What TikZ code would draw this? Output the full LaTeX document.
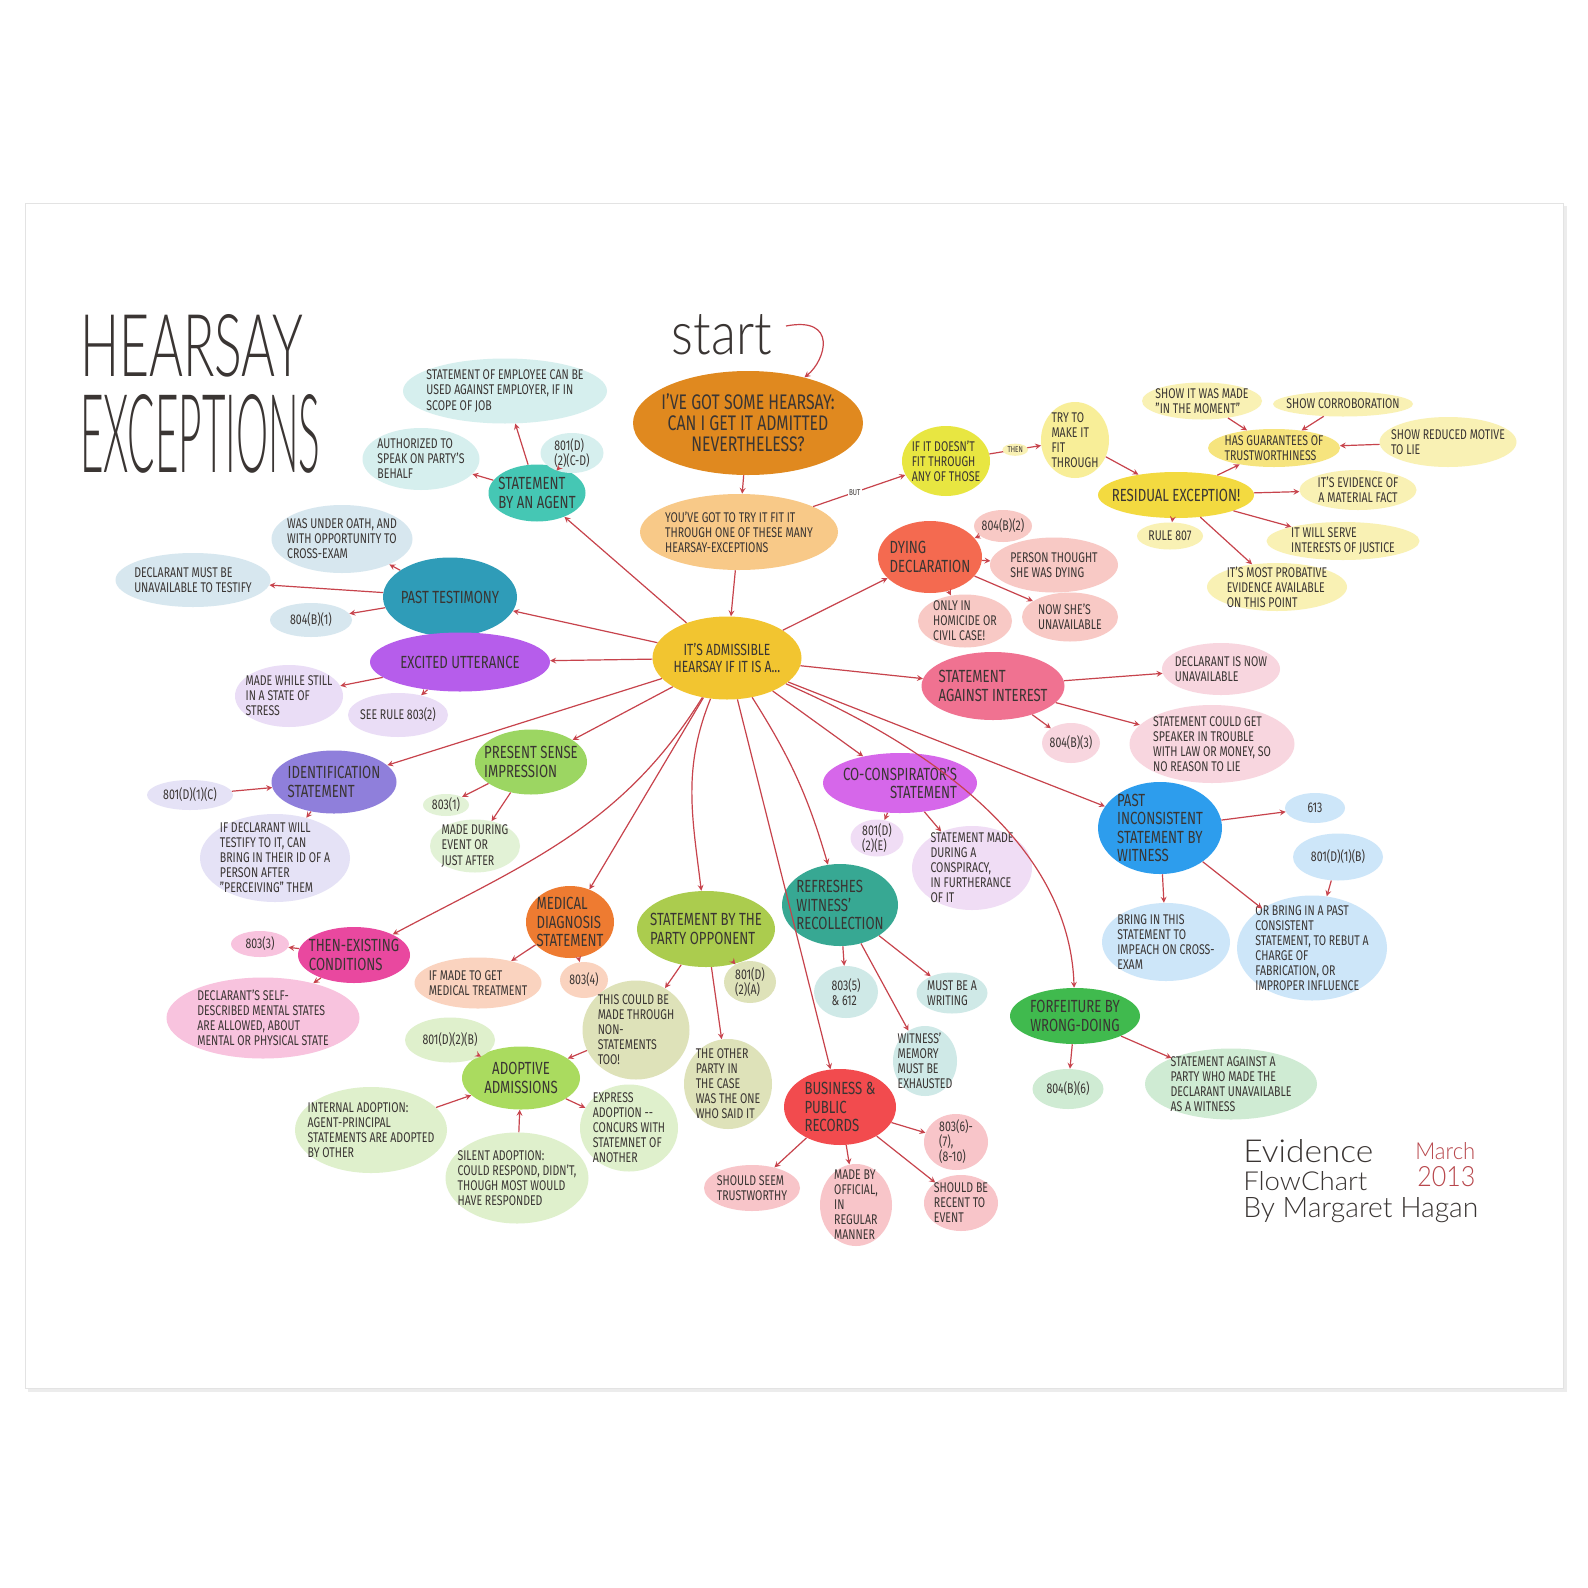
\documentclass[tikz,border=0pt]{standalone}
\usepackage{fontspec}
\usepackage{graphicx}
\setmainfont{Fira Sans}[FakeStretch=0.75]
\IfFontExistsTF{Lato Light}{\newfontfamily\thinhand{Lato Light}}{\newfontfamily\thinhand{Fira Sans}}
\usetikzlibrary{shapes.geometric}
\definecolor{startO}{HTML}{E0891F}\definecolor{tryO}{HTML}{F8C988}\definecolor{gold}{HTML}{F2C530}
\definecolor{lime}{HTML}{E8E641}\definecolor{paleY}{HTML}{F9F1B4}\definecolor{tryY}{HTML}{F8EE98}
\definecolor{residY}{HTML}{F3DA40}\definecolor{guarY}{HTML}{F6E47E}
\definecolor{agentT}{HTML}{45C7B4}\definecolor{agentL}{HTML}{D6EFEE}
\definecolor{pastB}{HTML}{2F9CB8}\definecolor{pastL}{HTML}{D7E7EF}
\definecolor{excP}{HTML}{B65DEB}\definecolor{excL}{HTML}{EADDF6}
\definecolor{idP}{HTML}{8F7FDB}\definecolor{idL}{HTML}{E5E2F6}
\definecolor{presG}{HTML}{9CD662}\definecolor{presL}{HTML}{E2F2D6}
\definecolor{dyingR}{HTML}{F46A50}\definecolor{dyingL}{HTML}{F8C9C5}
\definecolor{agaP}{HTML}{F07291}\definecolor{agaL}{HTML}{F8D6DF}
\definecolor{coconM}{HTML}{D667EA}\definecolor{coconL}{HTML}{F0DDF5}
\definecolor{refT}{HTML}{37A893}\definecolor{refL}{HTML}{CFE9E7}
\definecolor{pincB}{HTML}{2D9DED}\definecolor{pincL}{HTML}{CDE6F9}
\definecolor{forG}{HTML}{40BA4E}\definecolor{forL}{HTML}{CFEBD3}
\definecolor{busR}{HTML}{F24B4E}\definecolor{busL}{HTML}{F8C5C9}
\definecolor{medO}{HTML}{EE7B31}\definecolor{medL}{HTML}{FAD3BF}
\definecolor{thenM}{HTML}{E9489F}\definecolor{thenL}{HTML}{F8C3DE}
\definecolor{partyO}{HTML}{ABCC4E}\definecolor{partyL}{HTML}{DEE2B9}
\definecolor{adoG}{HTML}{AADB5F}\definecolor{adoL}{HTML}{DFF0CC}
\definecolor{arrowred}{HTML}{C7434C}\definecolor{ink}{HTML}{3A3533}\definecolor{signred}{HTML}{B8474C}
\begin{document}
\begin{tikzpicture}[x=0.25mm,y=-0.25mm,>=stealth,
bub/.style n args={3}{ellipse,fill=#1,minimum width=#2*0.25mm,minimum height=#3*0.25mm,inner sep=0pt},
sm/.style={font=\fontsize{10}{10.7}\selectfont,text=ink,align=left},
md/.style={font=\fontsize{12.5}{13}\selectfont,text=ink,align=left},
lg/.style={font=\fontsize{15}{15}\selectfont,text=ink,align=center},
tn/.style={font=\fontsize{6}{6}\selectfont,text=ink,inner sep=1pt},
sig/.style={font=\thinhand,text=ink,anchor=base west,inner sep=0pt},
link/.style={->,draw=arrowred,line width=0.3mm}]
\useasboundingbox (0,0) rectangle (1588,1588);
\fill[white] (0,0) rectangle (1588,1588);
% the card
\fill[gray!15] (28,206) rectangle (1567,1392);
\fill[white,draw=gray!22] (25,203) rectangle (1563,1388);
% title and signature
\node[font=\thinhand\fontsize{10}{10}\selectfont,text=ink,inner sep=0pt,align=left,anchor=north west] (title) at (80,314)
  {\resizebox{55.75mm}{15.5mm}{HEARSAY}\\[4mm]\resizebox{60mm}{19.5mm}{EXCEPTIONS}};
\node[font=\thinhand,text=ink] (startlbl) at (722,335) {\resizebox{25mm}{10mm}{start}};
\node[sig] (sigA) at (1243,1162) {\resizebox{32.5mm}{5.75mm}{Evidence}};
\node[sig] (sigB) at (1243,1190) {\resizebox{31mm}{4.75mm}{FlowChart}};
\node[sig] (sigC) at (1243,1217) {\resizebox{58.75mm}{5mm}{By Margaret Hagan}};
\node[sig,text=signred] (sigD) at (1415,1159) {\resizebox{15mm}{4.25mm}{March}};
\node[sig,text=signred] (sigE) at (1417,1186) {\resizebox{14.5mm}{5mm}{2013}};
% top of the chart
\node[bub={startO}{230}{104},label={[lg]center:{I'VE GOT SOME HEARSAY:\\CAN I GET IT ADMITTED\\NEVERTHELESS?}}] (q) at (748,423) {};
\node[bub={tryO}{198}{76},label={[sm]center:{YOU'VE GOT TO TRY IT FIT IT\\THROUGH ONE OF THESE MANY\\HEARSAY-EXCEPTIONS}}] (tryfit) at (739,532) {};
\node[bub={gold}{149}{83},label={[md,font=\fontsize{11.5}{12.5}\selectfont,align=center]center:{IT'S ADMISSIBLE\\HEARSAY IF IT IS A...}}] (admiss) at (727,658) {};
\node[bub={lime}{88}{70},label={[sm]center:{IF IT DOESN'T\\FIT THROUGH\\ANY OF THOSE}}] (notfit) at (946,461) {};
\node[bub={tryY}{68}{76},label={[sm]center:{TRY TO\\MAKE IT\\FIT\\THROUGH}}] (tryto) at (1075,440) {};
% residual exception
\node[bub={residY}{156}{46},label={[md]center:{RESIDUAL EXCEPTION!}}] (resid) at (1176,495) {};
\node[bub={guarY}{132}{38},label={[sm]center:{HAS GUARANTEES OF\\TRUSTWORTHINESS}}] (guar) at (1274,448) {};
\node[bub={paleY}{120}{37},label={[sm]center:{SHOW IT WAS MADE\\"IN THE MOMENT"}}] (moment) at (1202,401) {};
\node[bub={paleY}{140}{25},label={[sm]center:{SHOW CORROBORATION}}] (corrob) at (1343,404) {};
\node[bub={paleY}{137}{50},label={[sm]center:{SHOW REDUCED MOTIVE\\TO LIE}}] (reduced) at (1448,442) {};
\node[bub={paleY}{117}{40},label={[sm,align=center]center:{IT'S EVIDENCE OF\\A MATERIAL FACT}}] (material) at (1358,490) {};
\node[bub={paleY}{66}{27},label={[sm]center:{RULE 807}}] (rule807) at (1170,536) {};
\node[bub={paleY}{153}{38},label={[sm]center:{IT WILL SERVE\\INTERESTS OF JUSTICE}}] (justice) at (1343,541) {};
\node[bub={paleY}{140}{48},label={[sm]center:{IT'S MOST PROBATIVE\\EVIDENCE AVAILABLE\\ON THIS POINT}}] (probative) at (1277,587) {};
% agent
\node[bub={agentT}{97}{57},label={[md]center:{STATEMENT\\BY AN AGENT}}] (agent) at (537,493) {};
\node[bub={agentL}{204}{65},label={[sm]center:{STATEMENT OF EMPLOYEE CAN BE\\USED AGAINST EMPLOYER, IF IN\\SCOPE OF JOB}}] (employee) at (505,391) {};
\node[bub={agentL}{117}{62},label={[sm]center:{AUTHORIZED TO\\SPEAK ON PARTY'S\\BEHALF}}] (authorized) at (421,459) {};
\node[bub={agentL}{63}{40},label={[sm]center:{801(D)\\(2)(C-D)}}] (ruleagent) at (572,453) {};
% past testimony
\node[bub={pastB}{134}{79},label={[md]center:{PAST TESTIMONY}}] (pasttest) at (450,597) {};
\node[bub={pastL}{141}{68},label={[sm]center:{WAS UNDER OATH, AND\\WITH OPPORTUNITY TO\\CROSS-EXAM}}] (oath) at (342,539) {};
\node[bub={pastL}{155}{54},label={[sm]center:{DECLARANT MUST BE\\UNAVAILABLE TO TESTIFY}}] (unavail) at (193,580) {};
\node[bub={pastL}{82}{34},label={[sm]center:{804(B)(1)}}] (rulepast) at (311,620) {};
% excited utterance
\node[bub={excP}{180}{59},label={[md]center:{EXCITED UTTERANCE}}] (excited) at (460,662) {};
\node[bub={excL}{108}{62},label={[sm]center:{MADE WHILE STILL\\IN A STATE OF\\STRESS}}] (stress) at (289,696) {};
\node[bub={excL}{100}{44},label={[sm]center:{SEE RULE 803(2)}}] (ruleexc) at (398,715) {};
% identification
\node[bub={idP}{125}{63},label={[md]center:{IDENTIFICATION\\STATEMENT}}] (ident) at (334,782) {};
\node[bub={idL}{86}{30},label={[sm]center:{801(D)(1)(C)}}] (ruleident) at (190,795) {};
\node[bub={idL}{150}{88},label={[sm]center:{IF DECLARANT WILL\\TESTIFY TO IT, CAN\\BRING IN THEIR ID OF A\\PERSON AFTER\\"PERCEIVING" THEM}}] (perceive) at (275,858) {};
% present sense
\node[bub={presG}{112}{65},label={[md]center:{PRESENT SENSE\\IMPRESSION}}] (present) at (531,762) {};
\node[bub={presL}{46}{22},label={[sm]center:{803(1)}}] (rulepres) at (446,805) {};
\node[bub={presL}{90}{53},label={[sm]center:{MADE DURING\\EVENT OR\\JUST AFTER}}] (during) at (475,846) {};
% dying declaration
\node[bub={dyingR}{104}{72},label={[md]center:{DYING\\DECLARATION}}] (dying) at (930,557) {};
\node[bub={dyingL}{58}{32},label={[sm]center:{804(B)(2)}}] (ruledying) at (1003,526) {};
\node[bub={dyingL}{128}{55},label={[sm]center:{PERSON THOUGHT\\SHE WAS DYING}}] (thought) at (1054,565) {};
\node[bub={dyingL}{94}{53},label={[sm]center:{ONLY IN\\HOMICIDE OR\\CIVIL CASE!}}] (homicide) at (965,621) {};
\node[bub={dyingL}{96}{49},label={[sm]center:{NOW SHE'S\\UNAVAILABLE}}] (nowunavail) at (1070,617) {};
% statement against interest
\node[bub={agaP}{143}{68},label={[md]center:{STATEMENT\\AGAINST INTEREST}}] (against) at (993,686) {};
\node[bub={agaL}{118}{52},label={[sm]center:{DECLARANT IS NOW\\UNAVAILABLE}}] (declunavail) at (1221,669) {};
\node[bub={agaL}{58}{40},label={[sm]center:{804(B)(3)}}] (ruleagainst) at (1071,743) {};
\node[bub={agaL}{165}{78},label={[sm]center:{STATEMENT COULD GET\\SPEAKER IN TROUBLE\\WITH LAW OR MONEY, SO\\NO REASON TO LIE}}] (trouble) at (1212,744) {};
% co-conspirator
\node[bub={coconM}{154}{60},label={[md,align=right]center:{CO-CONSPIRATOR'S\\STATEMENT}}] (cocon) at (900,783) {};
\node[bub={coconL}{53}{37},label={[sm]center:{801(D)\\(2)(E)}}] (rulecocon) at (877,838) {};
\node[bub={coconL}{120}{84},label={[sm]center:{STATEMENT MADE\\DURING A\\CONSPIRACY,\\IN FURTHERANCE\\OF IT}}] (conspiracy) at (972,868) {};
% refreshes recollection
\node[bub={refT}{116}{82},label={[md]center:{REFRESHES\\WITNESS'\\RECOLLECTION}}] (refresh) at (840,905) {};
\node[bub={refL}{64}{52},label={[sm]center:{803(5)\\\& 612}}] (rulerefresh) at (846,992) {};
\node[bub={refL}{71}{41},label={[sm]center:{MUST BE A\\WRITING}}] (writing) at (952,993) {};
\node[bub={refL}{64}{70},label={[sm]center:{WITNESS'\\MEMORY\\MUST BE\\EXHAUSTED}}] (memory) at (925,1061) {};
% past inconsistent statement
\node[bub={pincB}{124}{92},label={[md]center:{PAST\\INCONSISTENT\\STATEMENT BY\\WITNESS}}] (pastinc) at (1160,828) {};
\node[bub={pincL}{60}{30},label={[sm]center:{613}}] (rule613) at (1315,808) {};
\node[bub={pincL}{90}{47},label={[sm]center:{801(D)(1)(B)}}] (rulepastinc) at (1338,857) {};
\node[bub={pincL}{150}{105},label={[sm]center:{OR BRING IN A PAST\\CONSISTENT\\STATEMENT, TO REBUT A\\CHARGE OF\\FABRICATION, OR\\IMPROPER INFLUENCE}}] (rebut) at (1312,948) {};
\node[bub={pincL}{128}{78},label={[sm]center:{BRING IN THIS\\STATEMENT TO\\IMPEACH ON CROSS-\\EXAM}}] (impeach) at (1166,942) {};
% forfeiture
\node[bub={forG}{130}{56},label={[md,align=center]center:{FORFEITURE BY\\WRONG-DOING}}] (forfeit) at (1075,1016) {};
\node[bub={forL}{71}{40},label={[sm]center:{804(B)(6)}}] (ruleforfeit) at (1068,1089) {};
\node[bub={forL}{172}{71},label={[sm]center:{STATEMENT AGAINST A\\PARTY WHO MADE THE\\DECLARANT UNAVAILABLE\\AS A WITNESS}}] (madeunavail) at (1231,1084) {};
% business records
\node[bub={busR}{112}{76},label={[md]center:{BUSINESS \&\\PUBLIC\\RECORDS}}] (business) at (840,1107) {};
\node[bub={busL}{64}{56},label={[sm]center:{803(6)-\\(7),\\(8-10)}}] (rulebus) at (956,1142) {};
\node[bub={busL}{96}{46},label={[sm]center:{SHOULD SEEM\\TRUSTWORTHY}}] (trustworthy) at (752,1188) {};
\node[bub={busL}{72}{82},label={[sm]center:{MADE BY\\OFFICIAL,\\IN\\REGULAR\\MANNER}}] (official) at (856,1205) {};
\node[bub={busL}{74}{56},label={[sm]center:{SHOULD BE\\RECENT TO\\EVENT}}] (recent) at (961,1203) {};
% medical diagnosis
\node[bub={medO}{88}{72},label={[md]center:{MEDICAL\\DIAGNOSIS\\STATEMENT}}] (medical) at (570,922) {};
\node[bub={medL}{127}{51},label={[sm]center:{IF MADE TO GET\\MEDICAL TREATMENT}}] (treatment) at (478,983) {};
\node[bub={medL}{48}{36},label={[sm]center:{803(4)}}] (rulemed) at (584,980) {};
% then-existing conditions
\node[bub={thenM}{112}{56},label={[md]center:{THEN-EXISTING\\CONDITIONS}}] (thenex) at (354,955) {};
\node[bub={thenL}{58}{26},label={[sm]center:{803(3)}}] (rulethen) at (260,944) {};
\node[bub={thenL}{193}{81},label={[sm]center:{DECLARANT'S SELF-\\DESCRIBED MENTAL STATES\\ARE ALLOWED, ABOUT\\MENTAL OR PHYSICAL STATE}}] (mental) at (263,1018) {};
% party opponent and adoptive admissions
\node[bub={partyO}{138}{76},label={[md]center:{STATEMENT BY THE\\PARTY OPPONENT}}] (party) at (706,929) {};
\node[bub={partyL}{52}{42},label={[sm]center:{801(D)\\(2)(A)}}] (ruleparty) at (750,982) {};
\node[bub={partyL}{107}{99},label={[sm]center:{THIS COULD BE\\MADE THROUGH\\NON-\\STATEMENTS\\TOO!}}] (nonstmt) at (636,1030) {};
\node[bub={partyL}{88}{90},label={[sm]center:{THE OTHER\\PARTY IN\\THE CASE\\WAS THE ONE\\WHO SAID IT}}] (otherparty) at (728,1084) {};
\node[bub={adoG}{118}{63},label={[md,align=center]center:{ADOPTIVE\\ADMISSIONS}}] (adoptive) at (521,1078) {};
\node[bub={adoL}{90}{45},label={[sm]center:{801(D)(2)(B)}}] (ruleadopt) at (450,1040) {};
\node[bub={adoL}{152}{86},label={[sm]center:{INTERNAL ADOPTION:\\AGENT-PRINCIPAL\\STATEMENTS ARE ADOPTED\\BY OTHER}}] (internal) at (371,1130) {};
\node[bub={adoL}{143}{91},label={[sm]center:{SILENT ADOPTION:\\COULD RESPOND, DIDN'T,\\THOUGH MOST WOULD\\HAVE RESPONDED}}] (silent) at (517,1178) {};
\node[bub={adoL}{98}{87},label={[sm]center:{EXPRESS\\ADOPTION -{}-\\CONCURS WITH\\STATEMNET OF\\ANOTHER}}] (express) at (629,1128) {};
% connectors
\coordinate (startend) at (786,326);
\draw[link] (startend) .. controls (838,316) and (826,360) .. (q);
\draw[link] (q) -- (tryfit);
\draw[link] (tryfit) -- (admiss);
\draw[link] (tryfit) -- node[tn,fill=white,pos=0.45] (butlbl) {BUT} (notfit);
\draw[link] (notfit) -- node[tn,ellipse,fill=paleY] (thenlbl) {THEN} (tryto);
\foreach \a/\b in {tryto/resid,resid/guar,moment/guar,corrob/guar,reduced/guar,resid/material,resid/rule807,resid/justice,resid/probative,
  admiss/agent,agent/employee,agent/authorized,agent/ruleagent,
  admiss/pasttest,pasttest/oath,pasttest/unavail,pasttest/rulepast,
  admiss/excited,excited/stress,excited/ruleexc,
  admiss/ident,ruleident/ident,ident/perceive,
  admiss/present,present/rulepres,present/during,
  thenex/rulethen,thenex/mental,
  admiss/medical,medical/treatment,medical/rulemed,
  party/ruleparty,party/nonstmt,party/otherparty,
  nonstmt/adoptive,adoptive/ruleadopt,internal/adoptive,silent/adoptive,adoptive/express,
  admiss/business,business/rulebus,business/trustworthy,business/official,business/recent,
  refresh/rulerefresh,refresh/writing,refresh/memory,
  admiss/cocon,cocon/rulecocon,cocon/conspiracy,
  forfeit/ruleforfeit,forfeit/madeunavail,
  admiss/pastinc,pastinc/rule613,pastinc/impeach,pastinc/rebut,rulepastinc/rebut,
  admiss/against,against/declunavail,against/ruleagainst,against/trouble,
  admiss/dying,ruledying/dying,dying/thought,dying/homicide,dying/nowunavail}
  \draw[link] (\a) -- (\b);
% the bent ones
\draw[link] (admiss) to[out=-122,in=28] (thenex);
\draw[link] (admiss) to[out=-112,in=97] (party);
\draw[link] (admiss) to[bend left=8] (refresh);
\draw[link] (admiss) .. controls (960,760) and (1070,860) .. (forfeit);
\end{tikzpicture}
\end{document}
